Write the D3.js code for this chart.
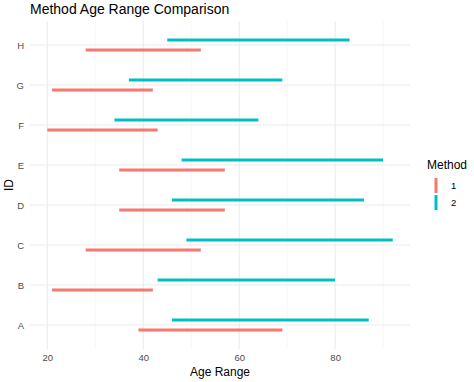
<!DOCTYPE html>
<html><head><meta charset="utf-8">
<script src="https://cdn.jsdelivr.net/npm/d3@7"></script>
<style>body{margin:0;background:#fff}svg{display:block;font-family:"Liberation Sans",Arial,sans-serif}</style>
</head><body><svg id="c" width="474" height="382"></svg>
<script>
const ids = ["A","B","C","D","E","F","G","H"];
const method1Start = [39,21,28,35,35,20,21,28];
const method1End   = [69,42,52,57,57,43,42,52];
const method2Start = [46,43,49,46,48,34,37,45];
const method2End   = [87,80,92,86,90,64,69,83];
const methods = ["1","2"];
const colors = ["#F8766D","#00BFC4"];
const xTicks = [20,40,60,80];
const xMinor = [30,50,70,90];

const rows = [];
ids.forEach((id,i)=>{
  rows.push({id, m:"1", s:method1Start[i], e:method1End[i]});
  rows.push({id, m:"2", s:method2Start[i], e:method2End[i]});
});

const svg = d3.select("#c");
const L=30, R=410, T=21, B=349;
const lo = d3.min(rows,d=>d.s), hi = d3.max(rows,d=>d.e), pad=(hi-lo)*0.05;
const x = d3.scaleLinear().domain([lo-pad,hi+pad]).range([L,R]);
const y = d3.scalePoint().domain(ids).range([B,T]).padding(0.6);
const color = d3.scaleOrdinal().domain(methods).range(colors);
const off = {"1":5,"2":-5};

const g = svg.append("g");
g.selectAll(".vmin").data(xMinor).join("line")
  .attr("x1",d=>x(d)).attr("x2",d=>x(d)).attr("y1",T).attr("y2",B)
  .attr("stroke","#f2f2f2").attr("stroke-width",0.6);
g.selectAll(".vmaj").data(xTicks).join("line")
  .attr("x1",d=>x(d)).attr("x2",d=>x(d)).attr("y1",T).attr("y2",B)
  .attr("stroke","#ebebeb").attr("stroke-width",1.1);
g.selectAll(".hmaj").data(ids).join("line")
  .attr("x1",L).attr("x2",R).attr("y1",d=>y(d)).attr("y2",d=>y(d))
  .attr("stroke","#ebebeb").attr("stroke-width",1.1);

g.selectAll(".seg").data(rows).join("line")
  .attr("x1",d=>x(d.s)).attr("x2",d=>x(d.e))
  .attr("y1",d=>y(d.id)+off[d.m]).attr("y2",d=>y(d.id)+off[d.m])
  .attr("stroke",d=>color(d.m)).attr("stroke-width",3);

// axes
const xa = svg.append("g").attr("transform",`translate(0,${B})`)
  .call(d3.axisBottom(x).tickValues(xTicks).tickSize(0).tickPadding(5));
xa.select(".domain").remove();
xa.selectAll("text").attr("fill","#4d4d4d").style("font-size","9.5px").style("font-family","Liberation Sans, Arial, sans-serif");
const ya = svg.append("g").attr("transform",`translate(${L},0)`)
  .call(d3.axisLeft(y).tickSize(0).tickPadding(6));
ya.select(".domain").remove();
ya.selectAll("text").attr("fill","#4d4d4d").style("font-size","9.5px").style("font-family","Liberation Sans, Arial, sans-serif");

svg.append("text").attr("x",(L+R)/2).attr("y",376).attr("text-anchor","middle")
  .attr("font-size","12px").attr("fill","#000").text("Age Range");
svg.append("text").attr("transform",`translate(13,${(T+B)/2}) rotate(-90)`).attr("text-anchor","middle")
  .attr("font-size","12px").attr("fill","#000").text("ID");
svg.append("text").attr("x",L).attr("y",14).attr("font-size","14px").attr("fill","#000")
  .text("Method Age Range Comparison");

// legend
const lg = svg.append("g");
lg.append("text").attr("x",427).attr("y",169).attr("font-size","12px").attr("fill","#000").text("Method");
const keys = lg.selectAll(".k").data(methods).join("g").attr("transform",(d,i)=>`translate(0,${178+i*17})`);
keys.append("line").attr("x1",436).attr("x2",436).attr("y1",0).attr("y2",15)
  .attr("stroke",d=>color(d)).attr("stroke-width",3);
keys.append("text").attr("x",451).attr("y",11).attr("font-size","9.5px").attr("fill","#000").text(d=>d);
</script></body></html>
